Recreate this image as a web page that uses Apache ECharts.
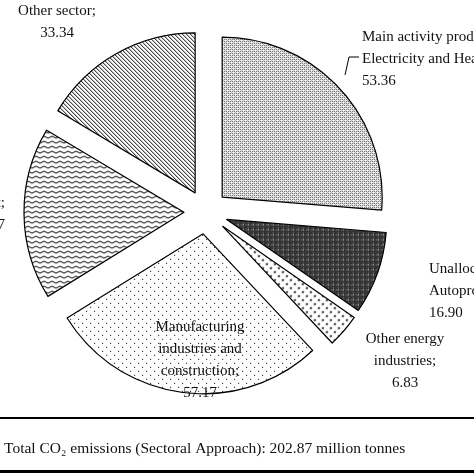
<!DOCTYPE html><html><head><meta charset="utf-8">
<script src="https://cdn.jsdelivr.net/npm/echarts@6/dist/echarts.min.js"></script>
<style>html,body{margin:0;padding:0;background:#fff}#c{width:474px;height:474px}</style></head><body><div id="c"></div>
<script>
const names=['Main activity producer\nElectricity and Heat;\n53.36','Unallocated\nAutoproducers;\n16.90','Other energy\nindustries;\n6.83','Manufacturing\nindustries and\nconstruction;\n57.17','Transport;\n35.27','Other sector;\n33.34'];
const values=[53.36,16.90,6.83,57.17,35.27,33.34];
const labelPos=[[362,26,'left'],[429,258,'left'],[405,328,'center'],[200,316,'center'],[5,192,'right'],[57,0,'center']];
function pat(w,h,draw){const c=document.createElement('canvas');c.width=w;c.height=h;const g=c.getContext('2d');g.fillStyle='#fff';g.fillRect(0,0,w,h);g.strokeStyle='#000';g.fillStyle='#000';g.lineWidth=1;draw(g);return {image:c,repeat:'repeat'};}
const pats=[
 pat(4,4,g=>{g.fillStyle='#444';g.fillRect(0,0,1,1);g.fillRect(2,2,1,1);g.fillRect(0,2,1,1);g.fillRect(2,0,1,1);g.fillStyle='#aaa';g.fillRect(1,1,1,1);g.fillRect(3,3,1,1);}),
 pat(5,5,g=>{g.fillStyle='#333';g.fillRect(0,0,5,5);g.fillStyle='#fff';g.fillRect(2,2,1,1);g.fillStyle='#888';g.fillRect(0,2,1,1);g.fillRect(2,0,1,1);}),
 pat(8,8,g=>{g.beginPath();g.moveTo(1,2);g.lineTo(3,1);g.lineTo(2,3);g.moveTo(5,6);g.lineTo(7,5);g.lineTo(6,7);g.stroke();}),
 pat(8,8,g=>{g.fillRect(1,1,1,1);g.fillRect(5,5,1,1);}),
 pat(8,5,g=>{g.beginPath();g.moveTo(0,2);g.quadraticCurveTo(2,0,4,2);g.quadraticCurveTo(6,4,8,2);g.stroke();}),
 pat(4,4,g=>{g.beginPath();g.moveTo(0,0);g.lineTo(4,4);g.moveTo(-1,3);g.lineTo(1,5);g.moveTo(3,-1);g.lineTo(5,1);g.stroke();})
];
const chart=echarts.init(document.getElementById('c'));
chart.setOption({animation:false,
 series:[{type:'pie',center:[206,212],radius:[0,160],startAngle:90,clockwise:true,selectedMode:'multiple',selectedOffset:22,
  emphasis:{disabled:true},
  data:values.map((v,i)=>({value:v,name:names[i],selected:true,itemStyle:{color:pats[i],borderColor:'#000',borderWidth:1.2}})),
  label:{show:false},labelLine:{show:false}
 }],
 graphic:names.map((n,i)=>({type:'text',x:labelPos[i][0],y:labelPos[i][1],z:10,style:{text:n,font:'15px "Liberation Serif"',fill:'#111',align:labelPos[i][2],lineHeight:22}})).concat([
  {type:'polyline',shape:{points:[[359,57],[349,57],[345,75]]},style:{stroke:'#000',lineWidth:1}},
  {type:'rect',shape:{x:0,y:417,width:474,height:2},style:{fill:'#000'}},
  {type:'rect',shape:{x:0,y:470,width:474,height:3},style:{fill:'#000'}},
  {type:'text',x:4,y:449,style:{text:'Total CO₂ emissions (Sectoral Approach): 202.87 million tonnes',font:'15.5px "Liberation Serif"',fill:'#111',verticalAlign:'middle'}}
 ])});
</script></body></html>
